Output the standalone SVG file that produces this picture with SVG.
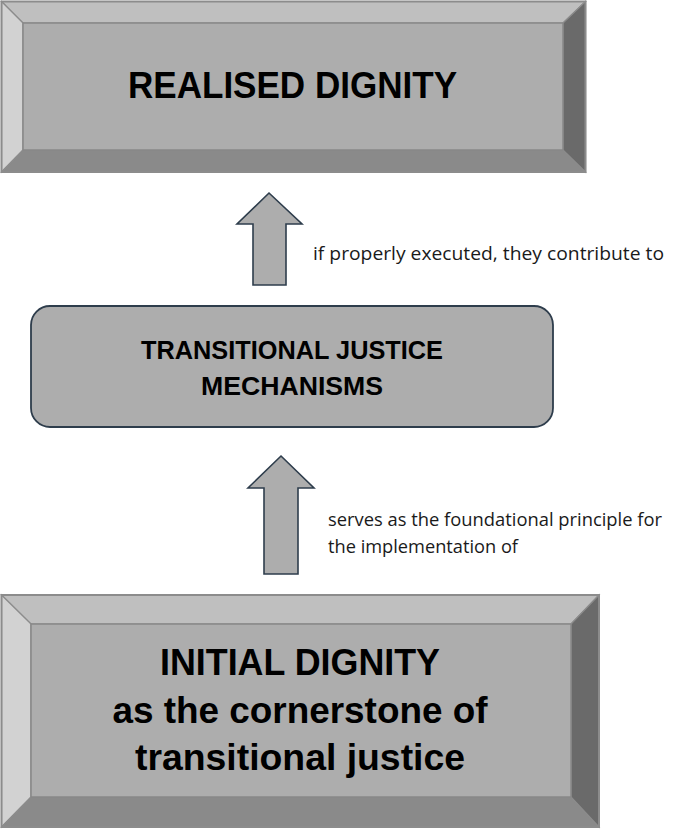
<svg xmlns="http://www.w3.org/2000/svg" width="685" height="830" viewBox="0 0 685 830">
<defs>
<style>
.bt{fill:#bfbfbf}.bl{fill:#d2d2d2}.bb{fill:#8a8a8a}.br{fill:#6a6a6a}
.bev{stroke:#8c8c8c;stroke-width:1.2;stroke-linejoin:miter}
.face{fill:#adadad;stroke:#888;stroke-width:1.5}
.outer{fill:none;stroke:#8c8c8c;stroke-width:2}
.big{font-family:"Liberation Sans",Arial,sans-serif;font-weight:bold;fill:#000;text-anchor:middle}
.lbl{font-family:"Open Sans","Liberation Sans",sans-serif;font-size:18px;fill:#1a1a1a}
.arrow{fill:#adadad;stroke:#2e3d4c;stroke-width:1.6;stroke-linejoin:miter}
.mid{fill:#adadad;stroke:#2e3d4c;stroke-width:1.8}
</style>
</defs>
<rect width="685" height="830" fill="#fff"/>

<g id="realised-dignity">
<polygon class="bt bev" points="1.5,1.5 585.5,1.5 563,23 23,23"/>
<polygon class="bl bev" points="1.5,1.5 23,23 23,150 1.5,172"/>
<polygon class="bb bev" points="1.5,172 23,150 563,150 585.5,172"/>
<polygon class="br bev" points="585.5,1.5 585.5,172 563,150 563,23"/>
<rect class="face" x="23" y="23" width="540" height="127"/>
<rect class="outer" x="1.5" y="1.5" width="584" height="170.5"/>
<text class="big" x="292.5" y="98" font-size="36" textLength="329" lengthAdjust="spacingAndGlyphs">REALISED DIGNITY</text>
</g>

<g id="tj-mechanisms">
<rect class="mid" x="31" y="306" width="522" height="121" rx="19" ry="19"/>
<text class="big" x="292" y="359" font-size="25" textLength="302" lengthAdjust="spacingAndGlyphs">TRANSITIONAL JUSTICE</text>
<text class="big" x="292" y="395" font-size="25" textLength="182" lengthAdjust="spacingAndGlyphs">MECHANISMS</text>
</g>

<g id="initial-dignity">
<polygon class="bt bev" points="1.5,595 599,595 571,624 31,624"/>
<polygon class="bl bev" points="1.5,595 31,624 31,797 1.5,827"/>
<polygon class="bb bev" points="1.5,827 31,797 571,797 599,827"/>
<polygon class="br bev" points="599,595 599,827 571,797 571,624"/>
<rect class="face" x="31" y="624" width="540" height="173"/>
<rect class="outer" x="1.5" y="595" width="597.5" height="232"/>
<text class="big" x="300" y="675" font-size="37" textLength="280" lengthAdjust="spacingAndGlyphs">INITIAL DIGNITY</text>
<text class="big" x="300" y="723" font-size="37" textLength="375" lengthAdjust="spacingAndGlyphs">as the cornerstone of</text>
<text class="big" x="300" y="770" font-size="37" textLength="330" lengthAdjust="spacingAndGlyphs">transitional justice</text>
</g>

<g id="connectors">
<polygon class="arrow" points="269,193 302,224 286,224 286,285 253,285 253,224 237,224"/>
<text class="lbl" x="313" y="260" textLength="351" lengthAdjust="spacingAndGlyphs">if properly executed, they contribute to</text>
<polygon class="arrow" points="281,456 314,488 298,488 298,574 264,574 264,488 248,488"/>
<text class="lbl" x="328" y="526" textLength="334" lengthAdjust="spacingAndGlyphs">serves as the foundational principle for</text>
<text class="lbl" x="328" y="553" textLength="190" lengthAdjust="spacingAndGlyphs">the implementation of</text>
</g>
</svg>
